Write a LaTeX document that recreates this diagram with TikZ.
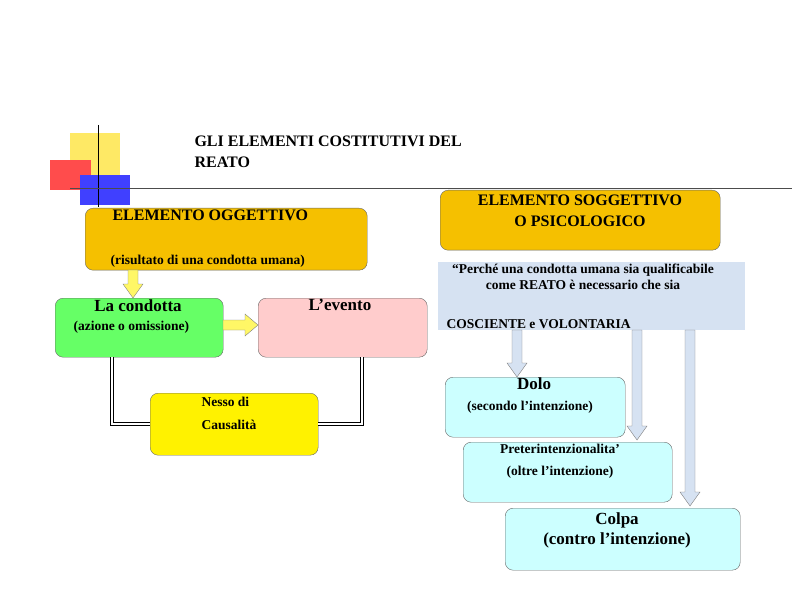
\documentclass[tikz,border=0pt]{standalone}
\usepackage{fontspec}
\setmainfont{Liberation Serif}
\usetikzlibrary{arrows.meta}

% block arrow pointing down: fill, x, top y, tip y
\newcommand{\downblock}[4]{%
    \filldraw[draw = black!50, fill = #1] (#2-5,#3) -- (#2+5,#3) -- (#2+5,#4-14) -- (#2+10,#4-14)
        -- (#2,#4) -- (#2-10,#4-14) -- (#2-5,#4-14) -- cycle;}

\begin{document}
\begin{tikzpicture}[
            x = 1pt, y = -1pt,
            box/.style = {draw = black!60, rounded corners = 8pt, anchor = north west, inner sep = 0pt},
            wire/.style = {double, double distance = 2pt, thick},
            small/.style = {font = \bfseries\fontsize{13.5}{16}\selectfont},
            big/.style = {font = \bfseries\fontsize{17}{20}\selectfont}
        ]
        \useasboundingbox (0,0) rectangle (792,612);
        \definecolor{ochre}{RGB}{245,192,0}
        \definecolor{paleblue}{RGB}{214,226,242}
        \definecolor{palecyan}{RGB}{204,255,255}

        % header decoration
        \fill[yellow!80!orange!60] (70,133) rectangle (120,180);
        \fill[red!70] (50,160) rectangle (91,190);
        \fill[blue!75] (80,175) rectangle (130,205);
        \draw[black, thick] (98,125) -- (98,207);
        \draw[black!70, thick] (70,188) -- (792,188);
        \node[anchor = north west, align = left, font = \bfseries\fontsize{16}{21}\selectfont] (title) at (191,132) {GLI ELEMENTI COSTITUTIVI DEL\\REATO};

        % elemento oggettivo
        \node[box, fill = ochre, minimum width = 282pt, minimum height = 62pt] (ogg) at (85,208) {};
        \node[big, font = \bfseries\fontsize{16}{18}\selectfont, anchor = north west] (oggt) at (109,206) {ELEMENTO OGGETTIVO};
        \node[small, anchor = south west] (oggs) at (107,271) {(risultato di una condotta umana)};

        \node[box, fill = green!60, minimum width = 168pt, minimum height = 59pt] (cond) at (55,298) {};
        \node[big, anchor = north] at (138,296) {La condotta};
        \node[small, anchor = north west] at (70,318) {(azione o omissione)};

        \node[box, fill = red!20, minimum width = 169pt, minimum height = 59pt] (ev) at (258,298) {};
        \node[big, anchor = north] at (340,296) {L’evento};

        \node[box, fill = yellow, minimum width = 168pt, minimum height = 62pt] (nesso) at (150,393) {};
        \node[small, anchor = north west, align = left] at (198,394) {Nesso di\\[7pt]Causalità};

        \downblock{yellow!60}{133}{270}{298}
        \filldraw[draw = black!50, fill = yellow!60] (223,320) -- (245,320) -- (245,314) -- (258,325)
            -- (245,336) -- (245,330) -- (223,330) -- cycle;

        \draw[wire] (cond.south west) ++(57,0) |- (nesso.west);
        \draw[wire] (ev.south west) ++(104,0) |- (nesso.east);

        % elemento soggettivo
        \node[box, fill = ochre, minimum width = 280pt, minimum height = 60pt] (sog) at (440,190) {};
        \node[font = \bfseries\fontsize{16}{21}\selectfont, align = center] at (580,211) {ELEMENTO SOGGETTIVO\\O PSICOLOGICO};

        \node[anchor = north west, fill = paleblue, minimum width = 307pt, minimum height = 68pt, inner sep = 0pt] (perche) at (438,262) {};
        \node[small, align = center] at (583,277) {“Perché una condotta umana sia qualificabile\\come REATO è necessario che sia};
        \node[small, anchor = west] at (443,324) {COSCIENTE e VOLONTARIA};

        \node[box, fill = palecyan, minimum width = 180pt, minimum height = 60pt] (dolo) at (445,377) {};
        \node[big, anchor = north] at (534,374) {Dolo};
        \node[small] at (530,407) {(secondo l’intenzione)};

        \node[box, fill = palecyan, minimum width = 209pt, minimum height = 60pt] (pret) at (463,442) {};
        \node[small, align = center] at (560,461) {Preterintenzionalita’\\[6pt](oltre l’intenzione)};

        \node[box, fill = palecyan, minimum width = 235pt, minimum height = 62pt] (colpa) at (505,508) {};
        \node[big, align = center] at (617,530) {Colpa\\(contro l’intenzione)};

        \downblock{paleblue}{517}{330}{377}
        \downblock{paleblue}{637}{330}{440}
        \downblock{paleblue}{690}{330}{506}
    \end{tikzpicture}
\end{document}
